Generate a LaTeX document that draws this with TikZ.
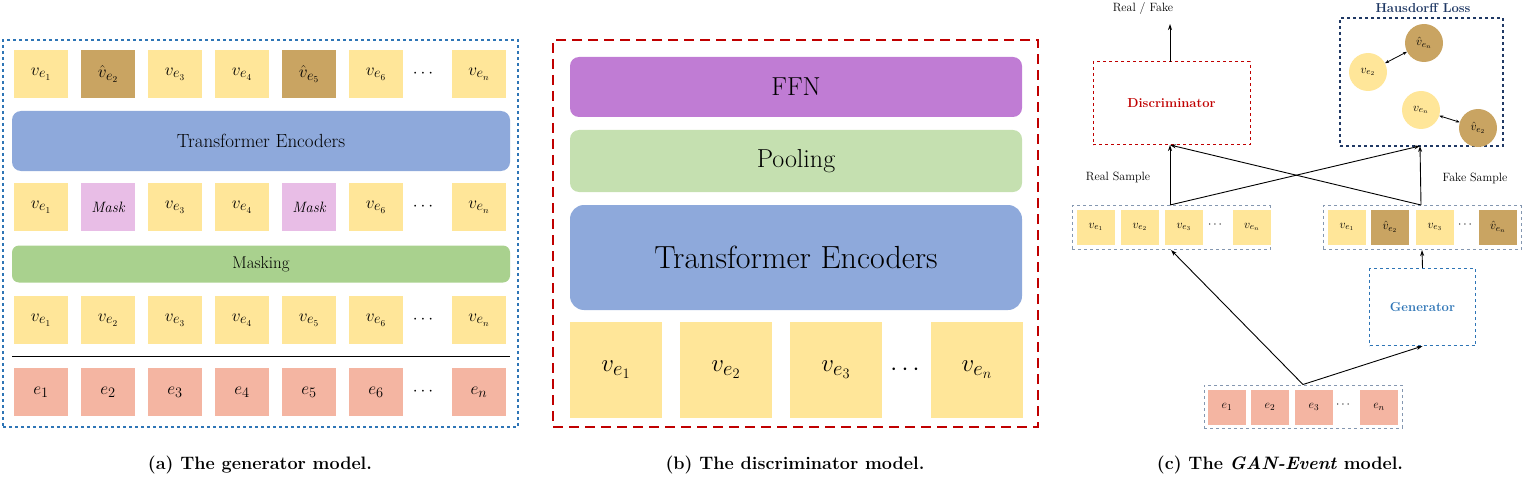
\documentclass[tikz,border=0pt]{standalone}
\usetikzlibrary{arrows.meta}
\definecolor{tok}{HTML}{FFE699}
\definecolor{htok}{HTML}{C9A462}
\definecolor{etok}{HTML}{F4B5A2}
\definecolor{masktok}{HTML}{E8BDE6}
\definecolor{trans}{HTML}{8EA9DB}
\definecolor{maskbar}{HTML}{A9D18E}
\definecolor{pool}{HTML}{C5E0B0}
\definecolor{ffn}{HTML}{C07CD4}
\definecolor{gblue}{HTML}{2E75B6}
\definecolor{dred}{HTML}{C00000}
\definecolor{navy}{HTML}{1F3864}
\definecolor{gdash}{HTML}{8497B0}
\begin{document}
\begin{tikzpicture}[x=1pt,y=-1pt,
 ta/.style={minimum width=54,minimum height=48,inner sep=0,font=\fontsize{19}{20}\selectfont},
 tb/.style={minimum width=92,minimum height=96,inner sep=0,font=\fontsize{30}{32}\selectfont},
 tc/.style={minimum width=38,minimum height=35,inner sep=0,font=\fontsize{13}{14}\selectfont},
 bar/.style={rounded corners=9,inner sep=0},
 arr/.style={-{Stealth[length=6pt,width=4pt]},line width=0.9pt},
 capt/.style={font=\fontsize{18}{20}\selectfont\bfseries},
 lbl/.style={font=\fontsize{12}{13}\selectfont}]
\useasboundingbox (0,0) rectangle (1526,484);
% ---------- (a)
\node[draw=gblue,dashed,line width=1.5pt,minimum width=515,minimum height=387,inner sep=0] (abox) at (260.5,233.5) {};
\node[ta,fill=tok] (a11) at (41,74) {$v_{e_1}$};
\node[ta,fill=htok] (a12) at (108,74) {$\hat v_{e_2}$};
\node[ta,fill=tok] (a13) at (175,74) {$v_{e_3}$};
\node[ta,fill=tok] (a14) at (242,74) {$v_{e_4}$};
\node[ta,fill=htok] (a15) at (309,74) {$\hat v_{e_5}$};
\node[ta,fill=tok] (a16) at (376,74) {$v_{e_6}$};
\node[font=\fontsize{19}{20}\selectfont] (ad1) at (423,74) {$\cdots$};
\node[ta,fill=tok] (a17) at (479,74) {$v_{e_n}$};
\node[bar,fill=trans,minimum width=498,minimum height=60,font=\fontsize{19}{20}\selectfont] (ate) at (261,141) {Transformer Encoders};
\node[ta,fill=tok] (a21) at (41,207) {$v_{e_1}$};
\node[ta,fill=masktok,font=\fontsize{15}{16}\selectfont\itshape] (a22) at (108,207) {Mask};
\node[ta,fill=tok] (a23) at (175,207) {$v_{e_3}$};
\node[ta,fill=tok] (a24) at (242,207) {$v_{e_4}$};
\node[ta,fill=masktok,font=\fontsize{15}{16}\selectfont\itshape] (a25) at (309,207) {Mask};
\node[ta,fill=tok] (a26) at (376,207) {$v_{e_6}$};
\node[font=\fontsize{19}{20}\selectfont] (ad2) at (423,207) {$\cdots$};
\node[ta,fill=tok] (a27) at (479,207) {$v_{e_n}$};
\node[bar,rounded corners=7,fill=maskbar,minimum width=498,minimum height=37,font=\fontsize{17}{18}\selectfont] (amask) at (261,264) {Masking};
\node[ta,fill=tok] (a31) at (41,320) {$v_{e_1}$};
\node[ta,fill=tok] (a32) at (108,320) {$v_{e_2}$};
\node[ta,fill=tok] (a33) at (175,320) {$v_{e_3}$};
\node[ta,fill=tok] (a34) at (242,320) {$v_{e_4}$};
\node[ta,fill=tok] (a35) at (309,320) {$v_{e_5}$};
\node[ta,fill=tok] (a36) at (376,320) {$v_{e_6}$};
\node[font=\fontsize{19}{20}\selectfont] (ad3) at (423,320) {$\cdots$};
\node[ta,fill=tok] (a37) at (479,320) {$v_{e_n}$};
\coordinate (la) at (12,356); \coordinate (lb) at (510,356);
\draw[line width=1pt] (la) -- (lb);
\node[ta,fill=etok] (a41) at (41,392) {$e_1$};
\node[ta,fill=etok] (a42) at (108,392) {$e_2$};
\node[ta,fill=etok] (a43) at (175,392) {$e_3$};
\node[ta,fill=etok] (a44) at (242,392) {$e_4$};
\node[ta,fill=etok] (a45) at (309,392) {$e_5$};
\node[ta,fill=etok] (a46) at (376,392) {$e_6$};
\node[font=\fontsize{19}{20}\selectfont] (ad4) at (423,392) {$\cdots$};
\node[ta,fill=etok] (a47) at (479,392) {$e_n$};
\node[capt] (capa) at (260,465) {(a) The generator model.};
% ---------- (b)
\node[draw=dred,line width=2.2pt,dash pattern=on 10pt off 6pt,minimum width=485,minimum height=387,inner sep=0] (bbox) at (795.5,233.5) {};
\node[bar,fill=ffn,minimum width=452,minimum height=60,font=\fontsize{26}{28}\selectfont] (bffn) at (796,87) {FFN};
\node[bar,fill=pool,minimum width=452,minimum height=62,font=\fontsize{26}{28}\selectfont] (bpool) at (796,161) {Pooling};
\node[bar,rounded corners=14,fill=trans,minimum width=452,minimum height=105,font=\fontsize{32}{34}\selectfont] (bte) at (796,257.5) {Transformer Encoders};
\node[tb,fill=tok] (b1) at (616,370) {$v_{e_1}$};
\node[tb,fill=tok] (b2) at (726,370) {$v_{e_2}$};
\node[tb,fill=tok] (b3) at (836,370) {$v_{e_3}$};
\node[font=\fontsize{30}{32}\selectfont] (bd) at (905,370) {$\cdots$};
\node[tb,fill=tok] (b4) at (977,370) {$v_{e_n}$};
\node[capt] (capb) at (795,465) {(b) The discriminator model.};
% ---------- (c)
\node[lbl] (rf) at (1143,9) {Real / Fake};
\node[draw=dred,dashed,line width=1pt,minimum width=157,minimum height=83,inner sep=0,text=dred,font=\fontsize{13}{14}\selectfont\bfseries] (disc) at (1171.5,103.5) {Discriminator};
\node[text=navy,font=\fontsize{13}{14}\selectfont\bfseries] (hl) at (1423,8) {Hausdorff Loss};
\node[draw=navy,dashed,line width=1.2pt,minimum width=163,minimum height=128,inner sep=0] (hbox) at (1421.5,82) {};
\node[circle,fill=tok,minimum size=38,inner sep=0,font=\fontsize{13}{14}\selectfont] (c1) at (1368,72) {$v_{e_2}$};
\node[circle,fill=htok,minimum size=38,inner sep=0,font=\fontsize{13}{14}\selectfont] (c2) at (1424,43) {$\hat v_{e_n}$};
\node[circle,fill=tok,minimum size=38,inner sep=0,font=\fontsize{13}{14}\selectfont] (c3) at (1421,110) {$v_{e_n}$};
\node[circle,fill=htok,minimum size=38,inner sep=0,font=\fontsize{13}{14}\selectfont] (c4) at (1478,128) {$\hat v_{e_2}$};
\draw[{Stealth[length=4pt,width=3pt]}-{Stealth[length=4pt,width=3pt]},line width=0.8pt] (c1) -- (c2);
\draw[{Stealth[length=4pt,width=3pt]}-{Stealth[length=4pt,width=3pt]},line width=0.8pt] (c3) -- (c4);
\node[draw=gdash,dashed,line width=1pt,minimum width=198,minimum height=44,inner sep=0] (rbox) at (1171,227.5) {};
\node[tc,fill=tok] (r1) at (1096,227) {$v_{e_1}$};
\node[tc,fill=tok] (r2) at (1140,227) {$v_{e_2}$};
\node[tc,fill=tok] (r3) at (1184,227) {$v_{e_3}$};
\node[font=\fontsize{13}{14}\selectfont] (rd) at (1215,225) {$\cdots$};
\node[tc,fill=tok] (r4) at (1252,227) {$v_{e_n}$};
\node[draw=gdash,dashed,line width=1pt,minimum width=198,minimum height=44,inner sep=0] (fbox) at (1422,227.5) {};
\node[tc,fill=tok] (f1) at (1347,227) {$v_{e_1}$};
\node[tc,fill=htok] (f2) at (1390,227) {$\hat v_{e_2}$};
\node[tc,fill=tok] (f3) at (1435,227) {$v_{e_3}$};
\node[font=\fontsize{13}{14}\selectfont] (fd) at (1465,225) {$\cdots$};
\node[tc,fill=htok] (f4) at (1498,227) {$\hat v_{e_n}$};
\node[lbl] (rs) at (1118,177) {Real Sample};
\node[lbl] (fs) at (1475,178) {Fake Sample};
\node[draw=gblue,dashed,line width=1.2pt,minimum width=106,minimum height=77,inner sep=0,text=gblue,font=\fontsize{13}{14}\selectfont\bfseries] (gen) at (1422.5,307) {Generator};
\node[draw=gdash,dashed,line width=1pt,minimum width=198,minimum height=43,inner sep=0] (ebox) at (1303,406.5) {};
\node[tc,fill=etok] (e1) at (1227,407) {$e_1$};
\node[tc,fill=etok] (e2) at (1270,407) {$e_2$};
\node[tc,fill=etok] (e3) at (1314,407) {$e_3$};
\node[font=\fontsize{13}{14}\selectfont] (ed) at (1343,405) {$\cdots$};
\node[tc,fill=etok] (e4) at (1379,407) {$e_n$};
% connector end points
\coordinate (dtop) at (1170,62);
\coordinate (rftop) at (1170,24);
\coordinate (dbot) at (1170,145);
\coordinate (hbot) at (1420,146);
\coordinate (rtop) at (1170,205);
\coordinate (ftop) at (1421,205);
\coordinate (fbot) at (1422,250);
\coordinate (rbot) at (1171,250);
\draw[arr] (dtop) -- (rftop);
\draw[arr] (rtop) -- (dbot);
\draw[arr] (rtop) -- (hbot);
\draw[arr] (ftop) -- (hbot);
\draw[arr] (ftop) -- (dbot);
\draw[arr] (gen.north) -- (fbot);
\draw[arr] (ebox.north) -- (rbot);
\draw[arr] (ebox.north) -- (gen.south);
\node[font=\fontsize{18}{20}\selectfont] (capc) at (1280,465) {\bfseries (c) The \textit{GAN-Event} model.};
\end{tikzpicture}
\end{document}
